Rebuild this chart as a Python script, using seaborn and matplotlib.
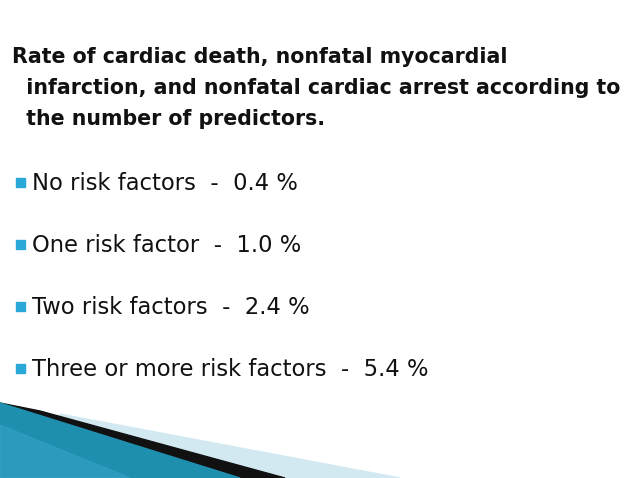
import matplotlib
matplotlib.use("Agg")
import matplotlib.pyplot as plt
import seaborn as sns

# slide content
title_lines = ["Rate of cardiac death, nonfatal myocardial",
               "  infarction, and nonfatal cardiac arrest according to",
               "  the number of predictors."]
categories = ["No risk factors", "One risk factor", "Two risk factors",
              "Three or more risk factors"]
rates = [0.4, 1.0, 2.4, 5.4]

sns.set_theme(style="white")
plt.rcParams['font.family'] = ['DejaVu Sans']

fig = plt.figure(figsize=(6.38, 4.78), dpi=100)
ax = fig.add_axes([0, 0, 1, 1])
ax.set_xlim(0, 638)
ax.set_ylim(478, 0)
ax.axis("off")

# decorative wedges bottom-left
ax.fill([60, 400, 400, 60], [414, 478, 478, 478], color="#d3e9f2")
ax.fill([0, 40, 285, 0], [403, 411, 478, 478], color="#111111")
ax.fill([0, 240, 0], [403, 478, 478], color="#1f8fb0")
ax.fill([0, 130, 70, 0], [425, 478, 478, 478], color="#3aa6c8", alpha=0.5)

# title
for i, line in enumerate(title_lines):
    ax.text(12, 57 + i * 31, line, fontsize=14.8, fontweight="semibold",
            color="#111111", va="center")

# bullets
for i, (cat, r) in enumerate(zip(categories, rates)):
    y = 183 + i * 62
    ax.add_patch(plt.Rectangle((16, y - 5), 9, 9, color="#2aa8d8"))
    ax.text(32, y, f"{cat}  -  {r:.1f} %", fontsize=16.3, color="#111111", va="center")

fig.savefig("out.png", dpi=100)
